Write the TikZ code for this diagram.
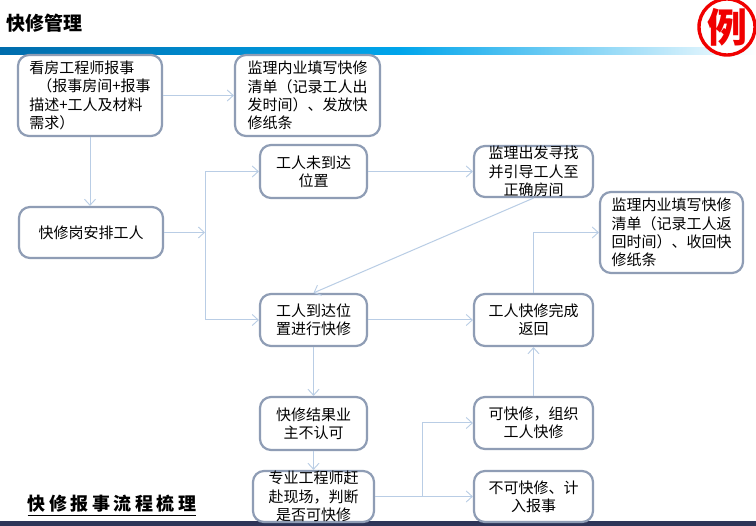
\documentclass[tikz,border=0pt]{standalone}
\usepackage{fontspec}
\setmainfont{Noto Sans CJK SC}
\usetikzlibrary{arrows.meta,shadings}
\definecolor{boxline}{HTML}{8F9DB5}
\definecolor{conn}{HTML}{B9CDE5}
\definecolor{barbot}{HTML}{2E3558}
\definecolor{stampred}{HTML}{F00000}
\tikzset{
  flow/.style={draw=boxline,line width=2.2pt,rounded corners=11pt,fill=white,inner sep=0pt,
    font=\fontsize{15}{18.3}\selectfont,text=black},
  cbox/.style={flow,align=center},
  lbox/.style={flow,align=left},
  conn/.style={draw=conn,line width=1pt,-{Straight Barb[length=6pt,width=11pt,line width=0.9pt]}},
}
\newcommand{\bx}[6]{%
  \node[#1,minimum width=#4 pt - #3 pt,minimum height=#6 pt - #5 pt] (#2) at ({(#3+#4)/2},{(#5+#6)/2})}
\begin{document}
\begin{tikzpicture}[x=1pt,y=-1pt]
\useasboundingbox (0,0) rectangle (756,526);
\fill[white] (0,0) rectangle (756,526);
% top bar
\shade[left color={rgb,255:red,0;green,108;blue,172},right color={rgb,255:red,0;green,165;blue,235}] (0,48) rectangle (400,55);
\shade[left color={rgb,255:red,0;green,165;blue,235},right color=white] (400,48) rectangle (756,55);
\fill[barbot] (0,521) rectangle (756,526);
% titles
\node[anchor=west,inner sep=0pt,font=\fontsize{19}{19}\selectfont\bfseries] (title) at (6,23) {快修管理};
\node[anchor=west,inner sep=0pt,font=\fontsize{18}{18}\selectfont\bfseries] (sub) at (27.5,504)
  {快\hspace{3.5pt}修\hspace{3.5pt}报\hspace{3.5pt}事\hspace{3.5pt}流\hspace{3.5pt}程\hspace{3.5pt}梳\hspace{3.5pt}理};
\draw[line width=1.2pt] (sub.west |- 0,515.5) coordinate (ul1) -- (sub.east |- 0,515.5) coordinate (ul2);
% stamp
\node[circle,draw=stampred,line width=3.4pt,fill=white,minimum size=56pt,inner sep=0pt,text=stampred,
  font=\fontsize{40}{40}\selectfont\bfseries] (stamp) at (727,27) {例};
% boxes
\bx{lbox}{A}{18}{162}{55}{136} {看房工程师报事\\\hspace*{8pt}（报事房间+报事\\描述+工人及材料\\需求）};
\bx{lbox}{B}{235}{380}{55}{136} {监理内业填写快修\\清单（记录工人出\\发时间）、发放快\\修纸条};
\bx{cbox}{C}{19}{163}{207}{258} {快修岗安排工人};
\bx{cbox}{D}{260}{367}{145}{198} {工人未到达\\位置};
\bx{cbox}{E}{474}{593}{146}{197} {监理出发寻找\\并引导工人至\\正确房间};
\bx{lbox}{F}{600}{743}{192}{273} {监理内业填写快修\\清单（记录工人返\\回时间）、收回快\\修纸条};
\bx{cbox}{G}{260}{367}{294}{346} {工人到达位\\置进行快修};
\bx{cbox}{H}{474}{593}{294}{346} {工人快修完成\\返回};
\bx{cbox}{I}{260}{367}{397}{450} {快修结果业\\主不认可};
\bx{cbox}{J}{474}{593}{397}{449} {可快修，组织\\工人快修};
\bx{cbox}{K}{253}{374}{471}{522} {专业工程师赶\\赴现场，判断\\是否可快修};
\bx{cbox}{L}{474}{593}{471}{522} {不可快修、计\\入报事};
% junctions
\coordinate (c1) at (205,232.5);
\coordinate (k1) at (422,496.5);
% connectors
\draw[conn] (A.east) -- (B.west);
\draw[conn] (A.south) -- (A.south |- C.north);
\draw[conn] (C.east) -- (c1);
\draw[conn] (c1) |- (D.west);
\draw[conn] (c1) |- (G.west);
\draw[conn] (D.east) -- (D.east -| E.west);
\draw[conn] (E.south) -- (G.north);
\draw[conn] (G.east) -- (H.west);
\draw[conn] (G.south) -- (I.north);
\draw[conn] (I.south) -- (I.south |- K.north);
\draw[conn] (K.east) -- (L.west);
\draw[conn] (k1) |- (J.west);
\draw[conn] (J.north) -- (H.south);
\draw[conn] (H.north) |- (F.west);
\end{tikzpicture}
\end{document}
